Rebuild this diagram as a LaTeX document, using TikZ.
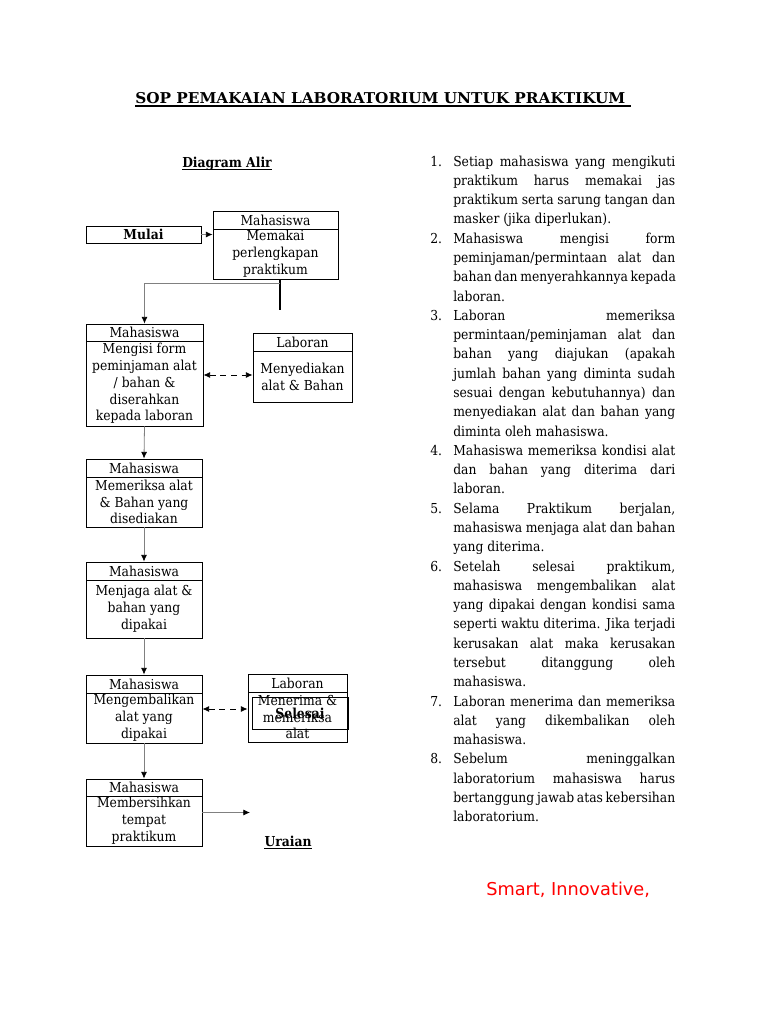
\documentclass[tikz,border=0pt]{standalone}
\usepackage{fontspec}
\setmainfont{DejaVu Serif}[FakeStretch=0.9]
\newfontfamily\redsans{DejaVu Sans}
\usetikzlibrary{arrows.meta,fit,calc}

\newcommand\bodyfs{\fontsize{10.3pt}{12.6pt}\selectfont}

\tikzset{
  x=0.75pt, y=-0.75pt,
  boxframe/.style={draw=black, line width=0.7pt, inner sep=0pt},
  hdr/.style={font=\bodyfs, inner sep=0pt},
  bodytxt/.style={font=\bodyfs, align=center, inner sep=0pt},
  boldtxt/.style={font=\bodyfs\bfseries, inner sep=0pt},
  conn/.style={draw=black!50, line width=0.6pt, -{Latex[length=5pt,width=4.5pt,color=black]}},
  dconn/.style={draw=black, line width=0.6pt, dash pattern=on 4.5pt off 3.5pt,
     {Latex[length=5pt,width=4.5pt]}-{Latex[length=5pt,width=4.5pt]}},
  ltxt/.style={font=\bodyfs, anchor=base west, inner sep=0pt},
  uline/.style={line width=0.9pt},
}

% name, x1, y1, x2, y2, yheader, header, body
\newcommand\flowbox[8]{%
  \coordinate (#1-nw) at (#2,#3);
  \coordinate (#1-se) at (#4,#5);
  \node[boxframe, fit=(#1-nw)(#1-se)] (#1) {};
  \draw[line width=0.7pt] (#2,#6) -- (#4,#6);
  \node[hdr] (#1-h) at ({(#2+#4)/2},{(#3+#6)/2}) {#7};
  \node[bodytxt] (#1-b) at ({(#2+#4)/2},{(#6+#5)/2}) {#8};
}
\newcommand\JL[2]{\node[ltxt] (t#1) at (453,{166+#1*19.29}) {\makebox[166.5pt][s]{#2}};}
\newcommand\LL[2]{\node[ltxt] (t#1) at (453,{166+#1*19.29}) {#2};}
\newcommand\NUM[2]{\node[ltxt] (n#1) at (430,{166+#1*19.29}) {#2};}

\begin{document}
\begin{tikzpicture}
\useasboundingbox (0,0) rectangle (768,1024);

% Title
\node[anchor=base west, inner sep=0pt] (title) at (135,103)
  {\resizebox{367.5pt}{8.3pt}{\bfseries SOP PEMAKAIAN LABORATORIUM UNTUK PRAKTIKUM}};
\draw[uline] ([yshift=-2.3pt]title.base west) -- ([yshift=-2.3pt,xshift=4pt]title.base east);

% Diagram Alir
\node[boldtxt, anchor=base] (diag) at (227,167) {Diagram Alir};
\draw[uline] ([yshift=-2pt]diag.base west) -- ([yshift=-2pt]diag.base east);

% Mulai
\coordinate (mulai-nw) at (86,226);
\coordinate (mulai-se) at (201,243);
\node[boxframe, fit=(mulai-nw)(mulai-se)] (mulai) {};
\node[boldtxt] (mulai-t) at (mulai.center) {Mulai};

% Boxes
\flowbox{b1}{213}{211}{338}{279}{229}{Mahasiswa}{Memakai\\perlengkapan\\praktikum}
\flowbox{b2}{86}{324}{203}{426}{341}{Mahasiswa}{Mengisi form\\peminjaman alat\\/ bahan \&\\diserahkan\\kepada laboran}
\flowbox{l1}{253}{333}{352}{402}{351}{Laboran}{Menyediakan\\alat \& Bahan}
\flowbox{b3}{86}{459}{202}{527}{477}{Mahasiswa}{Memeriksa alat\\\& Bahan yang\\disediakan}
\flowbox{b4}{86}{562}{202}{638}{580}{Mahasiswa}{Menjaga alat \&\\bahan yang\\dipakai}
\flowbox{b5}{86}{675}{202}{743}{693}{Mahasiswa}{Mengembalikan\\alat yang\\dipakai}
\flowbox{l2}{248}{674}{347}{742}{692}{Laboran}{Menerima \&\\memeriksa\\alat}
\flowbox{b6}{86}{779}{202}{846}{796}{Mahasiswa}{Membersihkan\\tempat\\praktikum}

% Selesai (transparent, overlapping as in the reference)
\coordinate (sel-nw) at (252,697);
\coordinate (sel-se) at (348,729);
\node[boxframe, fit=(sel-nw)(sel-se)] (sel) {};
\node[boldtxt] (sel-t) at (sel.center) {Selesai};

% Connectors
\draw[conn] (mulai.east) -- (mulai.east -| b1.west);
\coordinate (dang) at (280,310);
\draw[line width=1pt] (b1.south -| dang) -- (dang);
\coordinate (bend) at (280,283.5);
\draw[conn] (bend) -| (b2.north);
\draw[conn] (b2.south) -- (b3.north);
\draw[conn] (b3.south) -- (b4.north);
\draw[conn] (b4.south) -- (b5.north);
\draw[conn] (b5.south) -- (b6.north);
\draw[dconn] (b2.east) -- (b2.east -| l1.west);
\draw[dconn] (b5.east) -- (b5.east -| l2.west);
\coordinate (endsix) at (250,812.5);
\draw[conn] (b6.east) -- (endsix);

% Uraian
\node[boldtxt, anchor=base] (urai) at (288,846) {Uraian};
\draw[uline] ([yshift=-2pt]urai.base west) -- ([yshift=-2pt]urai.base east);

% List
\NUM{0}{1.}
\JL{0}{Setiap mahasiswa yang mengikuti}
\JL{1}{praktikum harus memakai jas}
\JL{2}{praktikum serta sarung tangan dan}
\LL{3}{masker (jika diperlukan).}
\NUM{4}{2.}
\JL{4}{Mahasiswa mengisi form}
\JL{5}{peminjaman/permintaan alat dan}
\JL{6}{bahan dan menyerahkannya kepada}
\LL{7}{laboran.}
\NUM{8}{3.}
\JL{8}{Laboran memeriksa}
\JL{9}{permintaan/peminjaman alat dan}
\JL{10}{bahan yang diajukan (apakah}
\JL{11}{jumlah bahan yang diminta sudah}
\JL{12}{sesuai dengan kebutuhannya) dan}
\JL{13}{menyediakan alat dan bahan yang}
\LL{14}{diminta oleh mahasiswa.}
\NUM{15}{4.}
\JL{15}{Mahasiswa memeriksa kondisi alat}
\JL{16}{dan bahan yang diterima dari}
\LL{17}{laboran.}
\NUM{18}{5.}
\JL{18}{Selama Praktikum berjalan,}
\JL{19}{mahasiswa menjaga alat dan bahan}
\LL{20}{yang diterima.}
\NUM{21}{6.}
\JL{21}{Setelah selesai praktikum,}
\JL{22}{mahasiswa mengembalikan alat}
\JL{23}{yang dipakai dengan kondisi sama}
\JL{24}{seperti waktu diterima. Jika terjadi}
\JL{25}{kerusakan alat maka kerusakan}
\JL{26}{tersebut ditanggung oleh}
\LL{27}{mahasiswa.}
\NUM{28}{7.}
\JL{28}{Laboran menerima dan memeriksa}
\JL{29}{alat yang dikembalikan oleh}
\LL{30}{mahasiswa.}
\NUM{31}{8.}
\JL{31}{Sebelum meninggalkan}
\JL{32}{laboratorium mahasiswa harus}
\JL{33}{bertanggung jawab atas kebersihan}
\LL{34}{laboratorium.}

% Slogan
\node[anchor=base west, inner sep=0pt, text=red, font=\redsans\fontsize{13.3pt}{15pt}\selectfont] (slogan) at (486,895) {Smart, Innovative,};
\end{tikzpicture}
\end{document}
